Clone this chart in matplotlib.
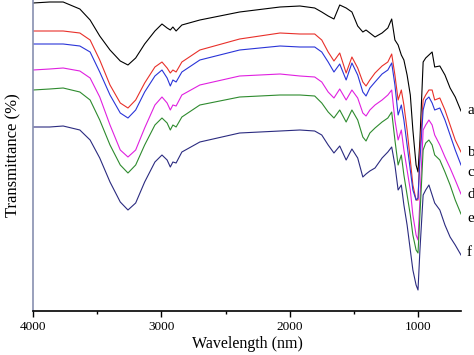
import numpy as np
import matplotlib
matplotlib.use('Agg')
from matplotlib import pyplot as plt

plt.rcParams['font.family'] = ['Liberation Serif', 'DejaVu Serif']

# wavenumber grid (cm-1, labelled as in the original figure)
wn = [4000, 3870, 3765, 3635, 3555, 3480, 3400, 3320, 3260, 3200,
      3130, 3050, 2995, 2955, 2930, 2910, 2885, 2840, 2700, 2390,
      2075, 1920, 1805, 1750, 1700, 1655, 1610, 1560, 1515, 1470,
      1430, 1405, 1375, 1335, 1280, 1235, 1205, 1180, 1155, 1130,
      1110, 1085, 1060, 1040, 1015, 1000, 985, 960, 940, 915,
      890, 870, 830, 790, 750, 710, 665]

# curves, stacked with offsets (larger value = lower on plot)
spec_a = [3, 2, 2, 9, 20, 36, 50, 61, 65, 58,
          44, 31, 24, 28, 30, 27, 31, 25, 20, 12,
          7, 6, 8, 12, 16, 19, 5, 8, 12, 26,
          32, 30, 33, 37, 33, 28, 19, 40, 45, 55,
          60, 75, 95, 130, 165, 172, 140, 62, 58, 55,
          52, 67, 66, 75, 88, 97, 111]
spec_b = [31, 31, 31, 33, 40, 60, 85, 103, 108, 100,
          83, 67, 62, 68, 73, 70, 72, 62, 50, 39,
          33, 34, 34, 40, 52, 61, 53, 73, 57, 68,
          82, 86, 80, 73, 66, 62, 54, 75, 100, 90,
          105, 130, 160, 185, 200, 200, 150, 100, 95, 90,
          90, 100, 98, 110, 125, 140, 152]
spec_c = [44, 44, 44, 46, 52, 72, 95, 113, 118, 110,
          92, 76, 70, 78, 86, 80, 82, 72, 60, 50,
          46, 47, 47, 52, 62, 72, 64, 80, 63, 75,
          92, 96, 88, 82, 74, 70, 63, 85, 115, 105,
          120, 145, 170, 190, 200, 198, 160, 110, 100, 97,
          103, 110, 108, 120, 135, 150, 165]
spec_d = [70, 69, 68, 71, 78, 97, 125, 150, 157, 150,
          128, 105, 97, 103, 110, 105, 106, 95, 85, 76,
          74, 76, 77, 82, 92, 98, 89, 100, 90, 98,
          113, 116, 110, 105, 100, 95, 90, 120, 140, 130,
          150, 170, 190, 215, 235, 240, 200, 130, 125, 120,
          125, 135, 145, 157, 168, 180, 194]
spec_e = [90, 89, 88, 92, 100, 120, 145, 165, 173, 165,
          145, 125, 118, 123, 130, 125, 127, 117, 105, 97,
          95, 95, 96, 103, 112, 118, 110, 122, 110, 120,
          137, 141, 133, 128, 122, 118, 112, 140, 165, 155,
          175, 195, 215, 235, 250, 253, 215, 150, 143, 140,
          145, 155, 160, 172, 185, 200, 214]
spec_f = [127, 127, 126, 130, 140, 158, 182, 202, 210, 203,
          182, 162, 155, 160, 167, 162, 163, 152, 142, 133,
          131, 130, 131, 135, 145, 153, 146, 160, 149, 158,
          177, 174, 171, 168, 158, 152, 147, 165, 190, 185,
          205, 225, 250, 270, 285, 290, 250, 195, 190, 185,
          195, 203, 210, 225, 237, 245, 255]

names = ['a', 'b', 'c', 'd', 'e', 'f']
label_pos = [111, 153, 172, 195, 218, 252]
colors = ['black', '#e8302a', '#2a34d8', '#e020e0', '#2e8b2e', '#2b2b80']

fig = plt.figure(figsize=(4.74, 3.55), dpi=100)
ax = fig.add_axes([33/474, 44/355, 428/474, 311/355])

for spec, c in zip([spec_a, spec_b, spec_c, spec_d, spec_e, spec_f], colors):
    ax.plot(wn, spec, color=c, linewidth=0.8)

for n, yy in zip(names, label_pos):
    ax.text(618, yy, n, fontsize=11, ha='left', va='center', clip_on=False)

ax.set_xlim(4000, 665)
ax.set_ylim(311, 0)
ax.set_xticks([4000, 3000, 2000, 1000])
ax.set_xticks([3500, 2500, 1500], minor=True)
ax.set_yticks([])
ax.tick_params(axis='x', which='major', direction='out', length=4, width=1, labelsize=9.5, pad=3)
ax.tick_params(axis='x', which='minor', direction='out', length=2.5, width=1)
ax.spines['top'].set_visible(False)
ax.spines['right'].set_visible(False)
ax.spines['left'].set_color('#8890b0')
ax.spines['left'].set_linewidth(1.2)
ax.spines['bottom'].set_linewidth(1.2)

ax.set_xlabel('Wavelength (nm)', fontsize=11.5, labelpad=2)
ax.set_ylabel('Transmittance (%)', fontsize=12, labelpad=8)

plt.savefig('out.png', dpi=100)
